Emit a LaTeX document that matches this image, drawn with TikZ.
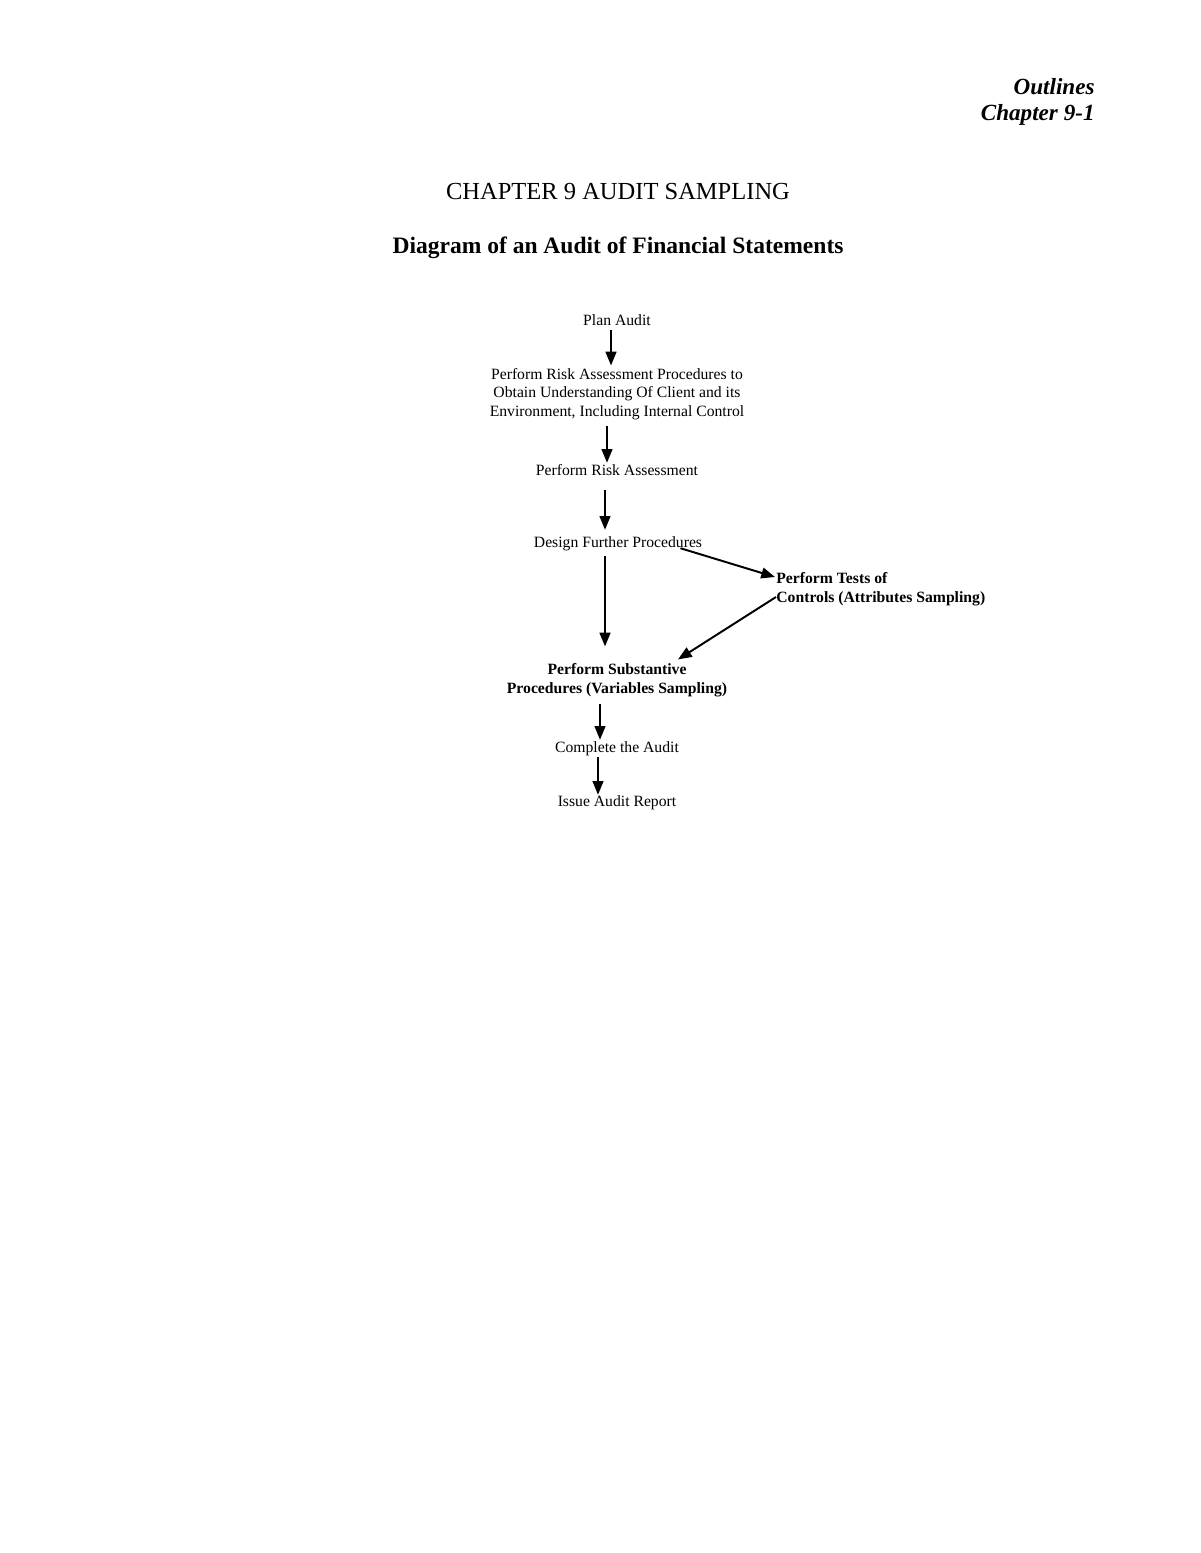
\documentclass[tikz,border=0pt]{standalone}
\usepackage{fontspec}
\setmainfont{Liberation Serif}
\usetikzlibrary{arrows.meta}

\begin{document}
\begin{tikzpicture}[x=0.51pt, y=-0.51pt,
        step text/.style={font=\fontsize{8}{9.4}\selectfont, align=center, inner sep=0pt},
        one line/.style={step text, text height=6pt, text depth=2pt},
        bold text/.style={step text, font=\fontsize{8}{9.4}\selectfont\bfseries},
        flow/.style={line width=1pt, -{Triangle[length=7pt, width=5.5pt]}}]
        \useasboundingbox (0,0) rectangle (1200,1553);

        % header
        \node[anchor=east, inner sep=0pt, font=\fontsize{11.8}{14}\selectfont\bfseries\itshape] (outl) at (1095,87) {Outlines};
        \node[anchor=east, inner sep=0pt, font=\fontsize{11.8}{14}\selectfont\bfseries\itshape] (chap) at (1095,115) {Chapter 9-1};
        \node[inner sep=0pt, font=\fontsize{12.5}{14}\selectfont] (title) at (618,192) {CHAPTER 9 AUDIT SAMPLING};
        \node[inner sep=0pt, font=\fontsize{12}{14}\selectfont\bfseries] (diag) at (618,248) {Diagram of an Audit of Financial Statements};

        % steps
        \def\x{617}
        \node[one line] (plan) at (\x,322) {Plan Audit};
        \node[step text] (risk) at (\x,394) {Perform Risk Assessment Procedures to\\Obtain Understanding Of Client and its\\Environment, Including Internal Control};
        \node[one line] (assess) at (\x,472) {Perform Risk Assessment};
        \node[one line] (design) at (\x+1,544) {Design Further Procedures};
        \node[bold text, anchor=west, align=left] (tests) at (776,589) {Perform Tests of\\Controls (Attributes Sampling)};
        \node[bold text] (subst) at (\x,680) {Perform Substantive\\Procedures (Variables Sampling)};
        \node[one line] (complete) at (\x,749) {Complete the Audit};
        \node[one line] (issue) at (\x,803) {Issue Audit Report};

        % arrows
        \draw[flow] ([shift={(-6,0)}]plan.south) -- ([shift={(-6,-2.5)}]risk.north);
        \draw[flow] ([shift={(-10,5.5)}]risk.south) -- ([shift={(-10,-1)}]assess.north);
        \draw[flow] ([shift={(-12,10)}]assess.south) -- ([shift={(-13,-6)}]design.north);
        \draw[flow] ([shift={(-22,-4)}]design.south east) -- ([shift={(-1,-12)}]tests.west);
        \draw[flow] ([shift={(0,8)}]tests.west) -- ([shift={(61,-3.7)}]subst.north);
        \draw[flow] ([shift={(-13,4)}]design.south) -- ([shift={(-12,-16.7)}]subst.north);
        \draw[flow] ([shift={(-17,6.7)}]subst.south) -- ([shift={(-17,-1)}]complete.north);
        \draw[flow] ([shift={(-19,0)}]complete.south) -- ([shift={(-19,0)}]issue.north);
\end{tikzpicture}
\end{document}
